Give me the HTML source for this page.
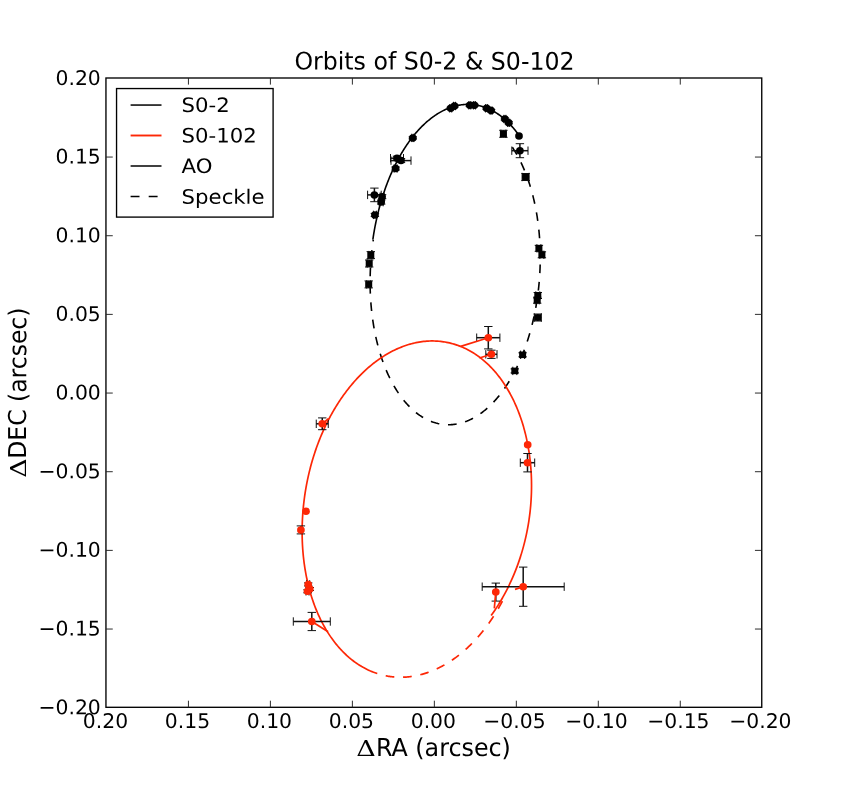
<!DOCTYPE html>
<html><head><meta charset="utf-8"><title>Orbits of S0-2 &amp; S0-102</title>
<style>html,body{margin:0;padding:0;background:#fff}svg{display:block}</style></head>
<body>
<svg width="845" height="786" viewBox="0 0 845 786">
<rect x="0" y="0" width="845" height="786" fill="#fff"/>
<path d="M512.36 147.30 L513.03 148.31 L513.69 149.34 L514.34 150.38 L514.99 151.44 L515.63 152.51 L516.27 153.59 L516.89 154.69 L517.51 155.80 L518.13 156.92 L518.73 158.06 L519.33 159.20 L519.92 160.36 L520.51 161.54 L521.08 162.72 L521.65 163.92 L522.22 165.13 L522.77 166.35 L523.32 167.58 L523.85 168.83 L524.38 170.08 L524.91 171.35 L525.42 172.63 L525.93 173.92 L526.43 175.22 L526.92 176.53 L527.40 177.85 L527.88 179.18 L528.34 180.52 L528.80 181.88 L529.25 183.24 L529.69 184.61 L530.13 185.99 L530.55 187.39 L530.97 188.79 L531.37 190.20 L531.77 191.62 L532.16 193.04 L532.54 194.48 L532.92 195.92 L533.28 197.38 L533.63 198.84 L533.98 200.31 L534.32 201.79 L534.65 203.27 L534.96 204.77 L535.27 206.27 L535.57 207.77 L535.87 209.29 L536.15 210.81 L536.42 212.34 L536.69 213.87 L536.94 215.41 L537.19 216.96 L537.42 218.52 L537.65 220.07 L537.87 221.64 L538.08 223.21 L538.27 224.79 L538.46 226.37 L538.64 227.95 L538.81 229.54 L538.98 231.14 L539.13 232.74 L539.27 234.34 L539.40 235.95 L539.52 237.56 L539.64 239.17 L539.74 240.79 L539.84 242.41 L539.92 244.04 L539.99 245.67 L540.06 247.30 L540.12 248.93 L540.16 250.57 L540.20 252.20 L540.22 253.84 L540.24 255.49 L540.25 257.13 L540.25 258.77 L540.23 260.42 L540.21 262.07 L540.18 263.71 L540.14 265.36 L540.09 267.01 L540.03 268.66 L539.96 270.31 L539.88 271.96 L539.79 273.61 L539.69 275.26 L539.59 276.91 L539.47 278.55 L539.34 280.20 L539.20 281.85 L539.06 283.49 L538.90 285.13 L538.74 286.77 L538.56 288.41 L538.38 290.05 L538.18 291.68 L537.98 293.31 L537.77 294.94 L537.55 296.57 L537.31 298.19 L537.07 299.81 L536.82 301.43 L536.57 303.04 L536.30 304.65 L536.02 306.26 L535.73 307.86 L535.44 309.46 L535.13 311.05 L534.82 312.64 L534.49 314.22 L534.16 315.80 L533.82 317.37 L533.47 318.94 L533.11 320.50 L532.74 322.06 L532.37 323.61 L531.98 325.15 L531.59 326.69 L531.19 328.22 L530.78 329.74 L530.36 331.26 L529.93 332.77 L529.49 334.28 L529.04 335.77 L528.59 337.26 L528.13 338.74 L527.66 340.22 L527.18 341.68 L526.69 343.14 L526.20 344.59 L525.70 346.03 L525.19 347.46 L524.67 348.88 L524.14 350.30 L523.61 351.70 L523.06 353.10 L522.51 354.49 L521.96 355.86 L521.39 357.23 L520.82 358.59 L520.24 359.93 L519.65 361.27 L519.06 362.60 L518.45 363.91 L517.84 365.22 L517.23 366.51 L516.60 367.80 L515.97 369.07 L515.34 370.33 L514.69 371.58 L514.04 372.82 L513.38 374.04 L512.72 375.26 L512.05 376.46 L511.37 377.65 L510.69 378.83 L510.00 380.00 L509.30 381.15 L508.60 382.29 L507.89 383.42 L507.18 384.53 L506.46 385.64 L505.73 386.73 L505.00 387.80 L504.26 388.86 L503.52 389.91 L502.77 390.95 L502.02 391.97 L501.26 392.98 L500.50 393.97 L499.73 394.95 L498.95 395.92 L498.17 396.87 L497.39 397.80 L496.60 398.73 L495.81 399.63 L495.01 400.53 L494.20 401.41 L493.40 402.27 L492.59 403.12 L491.77 403.95 L490.95 404.77 L490.13 405.57 L489.30 406.36 L488.47 407.13 L487.63 407.89 L486.79 408.63 L485.95 409.35 L485.10 410.06 L484.25 410.75 L483.40 411.43 L482.54 412.09 L481.68 412.74 L480.82 413.36 L479.95 413.98 L479.09 414.57 L478.21 415.15 L477.34 415.72 L476.47 416.26 L475.59 416.79 L474.71 417.31 L473.82 417.80 L472.94 418.28 L472.05 418.74 L471.16 419.19 L470.27 419.62 L469.38 420.03 L468.48 420.43 L467.59 420.80 L466.69 421.17 L465.79 421.51 L464.89 421.84 L463.99 422.15 L463.09 422.44 L462.19 422.71 L461.28 422.97 L460.38 423.21 L459.48 423.43 L458.57 423.64 L457.67 423.82 L456.76 423.99 L455.85 424.15 L454.95 424.28 L454.04 424.40 L453.14 424.50 L452.23 424.58 L451.32 424.65 L450.42 424.70 L449.51 424.73 L448.61 424.74 L447.71 424.73 L446.81 424.71 L445.90 424.67 L445.00 424.61 L444.11 424.54 L443.21 424.44 L442.31 424.33 L441.42 424.21 L440.52 424.06 L439.63 423.90 L438.74 423.72 L437.85 423.52 L436.97 423.30 L436.08 423.07 L435.20 422.82 L434.32 422.55 L433.44 422.27 L432.57 421.97 L431.70 421.65 L430.83 421.31 L429.96 420.96 L429.10 420.59 L428.24 420.20 L427.38 419.79 L426.52 419.37 L425.67 418.93 L424.82 418.48 L423.98 418.00 L423.14 417.51 L422.30 417.01 L421.47 416.48 L420.64 415.94 L419.81 415.39 L418.99 414.81 L418.17 414.23 L417.36 413.62 L416.55 413.00 L415.74 412.36 L414.94 411.71 L414.15 411.04 L413.35 410.35 L412.57 409.65 L411.79 408.93 L411.01 408.19 L410.24 407.44 L409.47 406.68 L408.71 405.90 L407.95 405.10 L407.20 404.29 L406.46 403.46 L405.72 402.62 L404.98 401.77 L404.25 400.89 L403.53 400.01 L402.81 399.10 L402.10 398.19 L401.40 397.26 L400.70 396.31 L400.00 395.35 L399.32 394.38 L398.64 393.39 L397.96 392.39 L397.30 391.37 L396.64 390.34 L395.98 389.30 L395.33 388.24 L394.69 387.17 L394.06 386.09 L393.43 384.99 L392.81 383.88 L392.20 382.76 L391.59 381.62 L391.00 380.48 L390.41 379.31 L389.82 378.14 L389.25 376.96 L388.68 375.76 L388.12 374.55 L387.56 373.33 L387.02 372.09 L386.48 370.85 L385.95 369.59 L385.42 368.32 L384.91 367.05 L384.40 365.76 L383.90 364.45 L383.41 363.14 L382.93 361.82 L382.46 360.49 L381.99 359.15 L381.53 357.79 L381.08 356.43 L380.64 355.06 L380.21 353.67 L379.79 352.28 L379.37 350.88 L378.96 349.47 L378.57 348.05 L378.18 346.62 L377.79 345.19 L377.42 343.74 L377.06 342.29 L376.71 340.82 L376.36 339.35 L376.02 337.88 L375.70 336.39 L375.38 334.90 L375.07 333.40 L374.77 331.89 L374.48 330.37 L374.19 328.85 L373.92 327.32 L373.66 325.79 L373.40 324.25 L373.16 322.70 L372.92 321.14 L372.70 319.59 L372.48 318.02 L372.27 316.45 L372.07 314.87 L371.88 313.29 L371.70 311.71 L371.53 310.12 L371.37 308.52 L371.22 306.92 L371.08 305.32 L370.95 303.71 L370.83 302.10 L370.71 300.48 L370.61 298.87 L370.52 297.24 L370.43 295.62 L370.36 293.99 L370.29 292.36 L370.24 290.73 L370.19 289.09 L370.16 287.45 L370.13 285.81 L370.11 284.17 L370.11 282.53 L370.11 280.88 L370.12 279.24 L370.14 277.59 L370.18 275.94 L370.22 274.29 L370.27 272.64 L370.33 270.99 L370.40 269.35 L370.48 267.70 L370.57 266.05 L370.67 264.40 L370.78 262.75 L370.89 261.10 L371.02 259.46 L371.16 257.81 L371.31 256.17 L371.46 254.52 L371.63 252.88 L371.80 251.24 L371.99 249.61 L372.18 247.97 L372.38 246.34 L372.60 244.71 L372.82 243.09 L373.05 241.46 L373.29 239.84" fill="none" stroke="#000" stroke-width="1.6" stroke-dasharray="8.7 8.75"/>
<path d="M372.83 239.68 L373.07 238.05 L373.32 236.42 L373.57 234.79 L373.84 233.17 L374.12 231.55 L374.40 229.93 L374.69 228.32 L375.00 226.71 L375.31 225.11 L375.63 223.51 L375.96 221.91 L376.30 220.32 L376.64 218.74 L377.00 217.16 L377.36 215.58 L377.74 214.01 L378.12 212.44 L378.51 210.88 L378.91 209.33 L379.31 207.78 L379.73 206.24 L380.15 204.70 L380.58 203.17 L381.02 201.65 L381.47 200.13 L381.93 198.63 L382.40 197.12 L382.87 195.63 L383.35 194.14 L383.84 192.66 L384.34 191.19 L384.84 189.72 L385.36 188.27 L385.88 186.82 L386.41 185.38 L386.94 183.95 L387.49 182.52 L388.04 181.11 L388.60 179.70 L389.17 178.31 L389.74 176.92 L390.32 175.54 L390.91 174.17 L391.51 172.82 L392.11 171.47 L392.72 170.13 L393.34 168.80 L393.96 167.48 L394.59 166.17 L395.23 164.87 L395.88 163.59 L396.53 162.31 L397.19 161.04 L397.85 159.79 L398.52 158.55 L399.20 157.31 L399.89 156.09 L400.58 154.88 L401.27 153.69 L401.98 152.50 L402.68 151.33 L403.40 150.17 L404.12 149.02 L404.85 147.88 L405.58 146.75 L406.32 145.64 L407.06 144.54 L407.81 143.45 L408.56 142.38 L409.32 141.32 L410.09 140.27 L410.86 139.24 L411.64 138.21 L412.42 137.21 L413.20 136.21 L413.99 135.23 L414.79 134.26 L415.59 133.31 L416.39 132.37 L417.20 131.45 L418.02 130.53 L418.83 129.64 L419.66 128.76 L420.48 127.89 L421.31 127.03 L422.15 126.19 L422.99 125.37 L423.83 124.56 L424.68 123.77 L425.52 122.99 L426.38 122.22 L427.24 121.47 L428.10 120.74 L428.96 120.02 L429.83 119.31 L430.70 118.63 L431.57 117.95 L432.44 117.30 L433.32 116.65 L434.20 116.03 L435.09 115.42 L435.98 114.82 L436.86 114.25 L437.76 113.68 L438.65 113.14 L439.55 112.61 L440.44 112.09 L441.34 111.59 L442.25 111.11 L443.15 110.65 L444.06 110.20 L444.96 109.76 L445.87 109.35 L446.78 108.95 L447.69 108.57 L448.61 108.20 L449.52 107.85 L450.44 107.51 L451.35 107.20 L452.27 106.90 L453.19 106.61 L454.10 106.35 L455.02 106.10 L455.94 105.86 L456.86 105.65 L457.78 105.45 L458.70 105.27 L459.62 105.10 L460.54 104.95 L461.46 104.82 L462.38 104.71 L463.30 104.61 L464.22 104.53 L465.14 104.46 L466.05 104.42 L466.97 104.39 L467.89 104.37 L468.80 104.38 L469.72 104.40 L470.63 104.44 L471.54 104.49 L472.45 104.57 L473.36 104.65 L474.27 104.76 L475.18 104.88 L476.08 105.02 L476.99 105.18 L477.89 105.35 L478.79 105.55 L479.68 105.75 L480.58 105.98 L481.47 106.22 L482.36 106.48 L483.25 106.75 L484.14 107.04 L485.02 107.35 L485.90 107.68 L486.78 108.02 L487.65 108.38 L488.52 108.75 L489.39 109.14 L490.26 109.55 L491.12 109.98 L491.98 110.42 L492.83 110.87 L493.68 111.35 L494.53 111.84 L495.38 112.34 L496.22 112.87 L497.05 113.40 L497.89 113.96 L498.72 114.53 L499.54 115.12 L500.36 115.72 L501.18 116.34 L501.99 116.97 L502.80 117.62 L503.60 118.28 L504.40 118.96 L505.19 119.66 L505.98 120.37 L506.76 121.10 L507.54 121.84 L508.31 122.60 L509.08 123.37 L509.84 124.16 L510.60 124.96 L511.35 125.77 L512.10 126.61 L512.84 127.45 L513.58 128.31 L514.31 129.19 L515.03 130.08 L515.75 130.98 L516.46 131.90 L517.17 132.83 L517.87 133.78 L518.56 134.74 L519.25 135.71" fill="none" stroke="#000" stroke-width="1.6"/>
<path d="M502.39 601.18 L502.08 601.76 L501.77 602.35 L501.46 602.93 L501.14 603.52 L500.82 604.10 L500.50 604.69 L500.17 605.28 L499.85 605.87 L499.52 606.45 L499.18 607.04 L498.85 607.63 L498.51 608.22 L498.17 608.81 L497.82 609.39 L497.47 609.98 L497.12 610.57 L496.77 611.16 L496.41 611.75 L496.06 612.34 L495.69 612.93 L495.33 613.52 L494.96 614.11 L494.59 614.70 L494.21 615.29 L493.84 615.88 L493.46 616.47 L493.07 617.06 L492.69 617.65 L492.30 618.24 L491.90 618.83 L491.51 619.42 L491.11 620.01 L490.70 620.60 L490.30 621.19 L489.89 621.78 L489.47 622.37 L489.06 622.95 L488.64 623.54 L488.22 624.13 L487.79 624.72 L487.36 625.31 L486.93 625.89 L486.49 626.48 L486.05 627.07 L485.61 627.65 L485.16 628.24 L484.71 628.82 L484.25 629.41 L483.80 629.99 L483.34 630.57 L482.87 631.15 L482.40 631.74 L481.93 632.32 L481.45 632.90 L480.97 633.48 L480.49 634.05 L480.00 634.63 L479.51 635.21 L479.02 635.78 L478.52 636.36 L478.02 636.93 L477.51 637.50 L477.00 638.07 L476.49 638.64 L475.97 639.21 L475.45 639.78 L474.92 640.34 L474.39 640.90 L473.86 641.47 L473.32 642.03 L472.78 642.59 L472.24 643.14 L471.69 643.70 L471.13 644.25 L470.58 644.81 L470.02 645.36 L469.45 645.90 L468.88 646.45 L468.31 646.99 L467.73 647.53 L467.15 648.07 L466.56 648.61 L465.97 649.15 L465.38 649.68 L464.78 650.21 L464.18 650.74 L463.58 651.26 L462.97 651.78 L462.35 652.30 L461.74 652.82 L461.11 653.33 L460.49 653.84 L459.86 654.35 L459.22 654.85 L458.58 655.35 L457.94 655.85 L457.30 656.34 L456.64 656.84 L455.99 657.32 L455.33 657.81 L454.67 658.29 L454.00 658.76 L453.33 659.23 L452.66 659.70 L451.98 660.16 L451.30 660.62 L450.61 661.08 L449.92 661.53 L449.22 661.98 L448.53 662.42 L447.82 662.86 L447.12 663.29 L446.41 663.72 L445.70 664.14 L444.98 664.56 L444.26 664.97 L443.53 665.38 L442.80 665.78 L442.07 666.18 L441.34 666.57 L440.60 666.95 L439.85 667.34 L439.11 667.71 L438.36 668.08 L437.61 668.44 L436.85 668.80 L436.09 669.15 L435.33 669.49 L434.56 669.83 L433.79 670.16 L433.02 670.49 L432.24 670.81 L431.46 671.12 L430.68 671.43 L429.90 671.73 L429.11 672.02 L428.32 672.30 L427.53 672.58 L426.73 672.85 L425.93 673.11 L425.13 673.37 L424.33 673.62 L423.52 673.86 L422.72 674.09 L421.91 674.32 L421.09 674.54 L420.28 674.75 L419.46 674.95 L418.65 675.14 L417.82 675.33 L417.00 675.51 L416.18 675.68 L415.35 675.84 L414.53 675.99 L413.70 676.13 L412.87 676.27 L412.04 676.40 L411.21 676.52 L410.37 676.63 L409.54 676.73 L408.70 676.82 L407.87 676.90 L407.03 676.98 L406.19 677.04 L405.35 677.10 L404.51 677.15 L403.68 677.19 L402.84 677.22 L402.00 677.24 L401.16 677.25 L400.32 677.25 L399.48 677.25 L398.64 677.23 L397.80 677.21 L396.96 677.17 L396.12 677.13 L395.29 677.07 L394.45 677.01 L393.61 676.94 L392.78 676.86 L391.94 676.77 L391.11 676.67 L390.28 676.56 L389.45 676.44 L388.62 676.31 L387.79 676.18 L386.97 676.03 L386.14 675.87 L385.32 675.71 L384.50 675.53 L383.68 675.35 L382.86 675.16 L382.05 674.96 L381.24 674.75 L380.43 674.53 L379.62 674.30 L378.82 674.06 L378.01 673.81 L377.22 673.56" fill="none" stroke="#fd2706" stroke-width="1.7" stroke-dasharray="8.7 8.75"/>
<path d="M377.22 673.56 L375.75 673.06 L374.30 672.54 L372.86 671.99 L371.42 671.41 L370.00 670.80 L368.60 670.16 L367.20 669.49 L365.82 668.80 L364.45 668.08 L363.09 667.34 L361.75 666.57 L360.43 665.77 L359.11 664.95 L357.82 664.11 L356.53 663.24 L355.27 662.35 L354.02 661.44 L352.79 660.51 L351.57 659.55 L350.37 658.58 L349.18 657.59 L348.02 656.57 L346.87 655.54 L345.74 654.50 L344.62 653.43 L343.53 652.35 L342.45 651.26 L341.38 650.14 L340.34 649.02 L339.31 647.88 L338.31 646.73 L337.31 645.57 L336.34 644.39 L335.39 643.20 L334.45 642.01 L333.53 640.80 L332.63 639.58 L331.74 638.36 L330.87 637.12 L330.02 635.88 L329.19 634.63 L328.37 633.38 L327.57 632.12 L326.79 630.85 L326.02 629.58 L325.27 628.30 L324.54 627.02 L323.82 625.74 L323.11 624.45 L322.43 623.16 L321.76 621.86 L321.10 620.57 L320.46 619.27 L319.83 617.97 L319.22 616.67 L318.63 615.37 L318.04 614.07 L317.48 612.76 L316.92 611.46 L316.38 610.16 L315.86 608.86 L315.34 607.56 L314.84 606.26 L314.35 604.96 L313.88 603.66 L313.42 602.37 L312.97 601.08 L312.53 599.78 L312.10 598.50 L311.69 597.21 L311.29 595.93 L310.89 594.65 L310.51 593.37 L310.14 592.09 L309.78 590.82 L309.44 589.55 L309.10 588.29 L308.77 587.02 L308.45 585.77 L308.14 584.51 L307.85 583.26 L307.56 582.01 L307.28 580.77 L307.01 579.53 L306.75 578.29 L306.49 577.06 L306.25 575.83 L306.01 574.61 L305.79 573.39 L305.57 572.17 L305.36 570.96 L305.15 569.76 L304.96 568.55 L304.77 567.35 L304.59 566.16 L304.42 564.97 L304.25 563.78 L304.09 562.60 L303.94 561.42 L303.80 560.24 L303.66 559.07 L303.53 557.91 L303.40 556.75 L303.28 555.59 L303.17 554.43 L303.07 553.28 L302.97 552.14 L302.87 550.99 L302.79 549.86 L302.70 548.72 L302.63 547.59 L302.56 546.46 L302.49 545.34 L302.43 544.22 L302.38 543.10 L302.33 541.99 L302.29 540.88 L302.25 539.78 L302.22 538.67 L302.19 537.58 L302.17 536.48 L302.15 535.39 L302.14 534.30 L302.13 533.21 L302.13 532.13 L302.13 531.05 L302.13 529.97 L302.14 528.90 L302.16 527.83 L302.18 526.76 L302.20 525.69 L302.23 524.63 L302.26 523.57 L302.30 522.51 L302.34 521.46 L302.39 520.41 L302.44 519.36 L302.49 518.31 L302.55 517.26 L302.62 516.22 L302.68 515.18 L302.75 514.14 L302.83 513.10 L302.91 512.07 L302.99 511.03 L303.08 510.00 L303.17 508.97 L303.27 507.95 L303.37 506.92 L303.47 505.90 L303.58 504.87 L303.69 503.85 L303.80 502.83 L303.92 501.81 L304.04 500.79 L304.17 499.78 L304.30 498.76 L304.44 497.75 L304.58 496.74 L304.72 495.73 L304.87 494.71 L305.02 493.71 L305.17 492.70 L305.33 491.69 L305.49 490.68 L305.66 489.67 L305.83 488.67 L306.00 487.66 L306.18 486.66 L306.37 485.65 L306.55 484.65 L306.74 483.64 L306.94 482.64 L307.14 481.64 L307.34 480.63 L307.55 479.63 L307.76 478.63 L307.98 477.62 L308.20 476.62 L308.42 475.62 L308.65 474.61 L308.88 473.61 L309.12 472.61 L309.36 471.60 L309.61 470.60 L309.86 469.59 L310.12 468.59 L310.38 467.58 L310.64 466.58 L310.91 465.57 L311.19 464.56 L311.46 463.55 L311.75 462.55 L312.04 461.54 L312.33 460.53 L312.63 459.51 L312.93 458.50 L313.24 457.49 L313.55 456.48 L313.87 455.46 L314.20 454.45 L314.53 453.43 L314.86 452.41 L315.20 451.39 L315.55 450.37 L315.90 449.35 L316.26 448.33 L316.62 447.30 L316.99 446.28 L317.36 445.25 L317.74 444.23 L318.13 443.20 L318.52 442.17 L318.92 441.13 L319.32 440.10 L319.73 439.07 L320.15 438.03 L320.57 436.99 L321.01 435.96 L321.44 434.92 L321.89 433.87 L322.34 432.83 L322.79 431.79 L323.26 430.74 L323.73 429.69 L324.21 428.64 L324.69 427.59 L325.19 426.54 L325.69 425.49 L326.20 424.43 L326.71 423.38 L327.24 422.32 L327.77 421.26 L328.31 420.20 L328.86 419.14 L329.42 418.08 L329.98 417.01 L330.55 415.95 L331.14 414.88 L331.73 413.82 L332.33 412.75 L332.94 411.68 L333.55 410.61 L334.18 409.54 L334.82 408.47 L335.46 407.40 L336.12 406.32 L336.78 405.25 L337.46 404.18 L338.14 403.10 L338.84 402.03 L339.54 400.96 L340.26 399.88 L340.98 398.81 L341.72 397.74 L342.47 396.67 L343.23 395.59 L344.00 394.52 L344.78 393.45 L345.57 392.38 L346.37 391.32 L347.19 390.25 L348.01 389.19 L348.85 388.12 L349.70 387.06 L350.56 386.01 L351.44 384.95 L352.32 383.90 L353.22 382.85 L354.13 381.80 L355.06 380.76 L355.99 379.72 L356.94 378.69 L357.91 377.66 L358.88 376.64 L359.87 375.62 L360.87 374.60 L361.88 373.60 L362.91 372.59 L363.95 371.60 L365.01 370.61 L366.08 369.63 L367.16 368.66 L368.25 367.69 L369.36 366.74 L370.48 365.79 L371.62 364.85 L372.77 363.93 L373.93 363.01 L375.11 362.10 L376.30 361.21 L377.50 360.33 L378.72 359.46 L379.95 358.60 L381.19 357.75 L382.45 356.92 L383.72 356.11 L385.00 355.31 L386.30 354.53 L387.60 353.76 L388.92 353.01 L390.26 352.27 L391.60 351.56 L392.96 350.86 L394.33 350.18 L395.71 349.52 L397.10 348.88 L398.50 348.26 L399.91 347.67 L401.34 347.09 L402.77 346.54 L404.21 346.01 L405.66 345.50 L407.12 345.02 L408.59 344.56 L410.07 344.13 L411.55 343.73 L413.04 343.35 L414.54 342.99 L416.04 342.67 L417.55 342.37 L419.07 342.09 L420.59 341.85 L422.11 341.64 L423.64 341.45 L425.17 341.29 L426.70 341.17 L428.24 341.07 L429.77 341.01 L431.31 340.97 L432.85 340.96 L434.38 340.99 L435.92 341.04 L437.45 341.13 L438.98 341.25 L440.51 341.40 L442.04 341.58 L443.56 341.79 L445.08 342.03 L446.59 342.31 L448.09 342.61 L449.59 342.95 L451.08 343.31 L452.57 343.71 L454.04 344.13 L455.51 344.59 L456.97 345.07 L458.42 345.59 L459.85 346.13 L461.28 346.70 L462.70 347.30 L464.10 347.93 L465.49 348.59 L466.87 349.27 L468.24 349.98 L469.59 350.71 L470.93 351.47 L472.26 352.25 L473.57 353.06 L474.86 353.89 L476.14 354.74 L477.41 355.62 L478.66 356.52 L479.89 357.44 L481.11 358.37 L482.31 359.33 L483.49 360.31 L484.66 361.31 L485.81 362.32 L486.95 363.36 L488.06 364.41 L489.16 365.47 L490.25 366.55 L491.31 367.65 L492.36 368.76 L493.39 369.88 L494.40 371.01 L495.40 372.16 L496.38 373.32 L497.34 374.49 L498.28 375.67 L499.21 376.87 L500.12 378.07 L501.01 379.28 L501.89 380.49 L502.75 381.72 L503.59 382.95 L504.41 384.19 L505.22 385.44 L506.01 386.69 L506.79 387.95 L507.55 389.21 L508.29 390.47 L509.02 391.74 L509.74 393.02 L510.43 394.30 L511.12 395.58 L511.78 396.86 L512.43 398.14 L513.07 399.43 L513.69 400.72 L514.30 402.01 L514.90 403.30 L515.48 404.59 L516.04 405.88 L516.60 407.17 L517.14 408.46 L517.66 409.75 L518.18 411.04 L518.68 412.32 L519.17 413.61 L519.64 414.90 L520.11 416.18 L520.56 417.46 L521.00 418.74 L521.42 420.02 L521.84 421.30 L522.25 422.57 L522.64 423.84 L523.02 425.11 L523.40 426.37 L523.76 427.64 L524.11 428.90 L524.45 430.15 L524.78 431.41 L525.11 432.66 L525.42 433.90 L525.72 435.15 L526.01 436.39 L526.30 437.62 L526.57 438.85 L526.84 440.08 L527.10 441.31 L527.34 442.53 L527.58 443.75 L527.82 444.96 L528.04 446.17 L528.25 447.38 L528.46 448.58 L528.66 449.78 L528.85 450.98 L529.04 452.17 L529.21 453.36 L529.38 454.54 L529.55 455.72 L529.70 456.90 L529.85 458.07 L529.99 459.24 L530.12 460.41 L530.25 461.57 L530.37 462.72 L530.49 463.88 L530.59 465.03 L530.70 466.18 L530.79 467.32 L530.88 468.46 L530.96 469.59 L531.04 470.73 L531.11 471.85 L531.18 472.98 L531.24 474.10 L531.29 475.22 L531.34 476.34 L531.38 477.45 L531.42 478.56 L531.45 479.66 L531.48 480.76 L531.50 481.86 L531.51 482.96 L531.52 484.05 L531.53 485.14 L531.53 486.23 L531.52 487.31 L531.51 488.40 L531.50 489.47 L531.48 490.55 L531.45 491.62 L531.42 492.69 L531.39 493.76 L531.35 494.83 L531.30 495.89 L531.25 496.95 L531.20 498.01 L531.14 499.06 L531.08 500.11 L531.01 501.17 L530.94 502.21 L530.86 503.26 L530.78 504.31 L530.70 505.35 L530.61 506.39 L530.51 507.43 L530.41 508.46 L530.31 509.50 L530.20 510.53 L530.09 511.56 L529.97 512.59 L529.85 513.62 L529.72 514.64 L529.59 515.67 L529.46 516.69 L529.32 517.71 L529.18 518.73 L529.03 519.75 L528.88 520.77 L528.72 521.78 L528.56 522.80 L528.39 523.81 L528.22 524.82 L528.05 525.83 L527.87 526.84 L527.69 527.85 L527.50 528.86 L527.31 529.87 L527.11 530.87 L526.91 531.88 L526.71 532.88 L526.50 533.89 L526.29 534.89 L526.07 535.89 L525.85 536.90 L525.62 537.90 L525.39 538.90 L525.15 539.90 L524.91 540.90 L524.66 541.90 L524.41 542.90 L524.16 543.90 L523.90 544.89 L523.63 545.89 L523.37 546.89 L523.09 547.89 L522.81 548.89 L522.53 549.89 L522.24 550.88 L521.95 551.88 L521.65 552.88 L521.35 553.88 L521.04 554.87 L520.73 555.87 L520.41 556.87 L520.09 557.87 L519.76 558.87 L519.42 559.87 L519.08 560.87 L518.74 561.87 L518.39 562.87 L518.04 563.87 L517.68 564.87 L517.31 565.87 L516.94 566.87 L516.56 567.87 L516.18 568.87 L515.79 569.88 L515.39 570.88 L514.99 571.89 L514.59 572.89 L514.18 573.90 L513.76 574.90 L513.33 575.91 L512.90 576.92 L512.47 577.92 L512.02 578.93 L511.57 579.94 L511.12 580.95 L510.65 581.96 L510.18 582.97 L509.71 583.98 L509.23 585.00 L508.74 586.01 L508.24 587.02 L507.74 588.04 L507.23 589.05 L506.71 590.07 L506.18 591.08 L505.65 592.10 L505.11 593.12 L504.56 594.14 L504.01 595.15 L503.44 596.17 L502.87 597.19 L502.29 598.21 L501.71 599.23 L501.11 600.25 L500.51 601.27 L499.90 602.29 L499.28 603.31 L498.65 604.33 L498.01 605.35 L497.36 606.37 L496.71 607.39 L496.05 608.41 L495.37 609.43 L494.69 610.45 L494.00 611.47 L493.30 612.49 L492.59 613.51 L491.87 614.52 L491.14 615.54" fill="none" stroke="#fd2706" stroke-width="1.7"/>
<path d="M367.60 194.90H381.20" stroke="#111" stroke-width="1.5"/><path d="M367.60 190.70V199.10M381.20 190.70V199.10" stroke="#111" stroke-width="1.0"/><path d="M374.40 188.10V201.70" stroke="#111" stroke-width="1.5"/><path d="M370.20 188.10H378.60M370.20 201.70H378.60" stroke="#111" stroke-width="1.0"/>
<path d="M380.10 196.70H384.10" stroke="#111" stroke-width="1.5"/><path d="M380.10 192.50V200.90M384.10 192.50V200.90" stroke="#111" stroke-width="1.0"/><path d="M382.10 194.70V198.70" stroke="#111" stroke-width="1.5"/><path d="M377.90 194.70H386.30M377.90 198.70H386.30" stroke="#111" stroke-width="1.0"/>
<path d="M379.20 202.10H383.20" stroke="#111" stroke-width="1.5"/><path d="M379.20 197.90V206.30M383.20 197.90V206.30" stroke="#111" stroke-width="1.0"/><path d="M381.20 200.10V204.10" stroke="#111" stroke-width="1.5"/><path d="M377.00 200.10H385.40M377.00 204.10H385.40" stroke="#111" stroke-width="1.0"/>
<path d="M373.40 214.90H376.40" stroke="#111" stroke-width="1.5"/><path d="M373.40 210.70V219.10M376.40 210.70V219.10" stroke="#111" stroke-width="1.0"/><path d="M374.90 213.40V216.40" stroke="#111" stroke-width="1.5"/><path d="M370.70 213.40H379.10M370.70 216.40H379.10" stroke="#111" stroke-width="1.0"/>
<path d="M394.10 168.50H397.10" stroke="#111" stroke-width="1.5"/><path d="M394.10 164.30V172.70M397.10 164.30V172.70" stroke="#111" stroke-width="1.0"/><path d="M395.60 167.00V170.00" stroke="#111" stroke-width="1.5"/><path d="M391.40 167.00H399.80M391.40 170.00H399.80" stroke="#111" stroke-width="1.0"/>
<path d="M390.50 158.20H403.50" stroke="#111" stroke-width="1.5"/><path d="M390.50 154.00V162.40M403.50 154.00V162.40" stroke="#111" stroke-width="1.0"/><path d="M397.00 156.20V160.20" stroke="#111" stroke-width="1.5"/><path d="M392.80 156.20H401.20M392.80 160.20H401.20" stroke="#111" stroke-width="1.0"/>
<path d="M391.00 160.60H411.00" stroke="#111" stroke-width="1.5"/><path d="M391.00 156.40V164.80M411.00 156.40V164.80" stroke="#111" stroke-width="1.0"/><path d="M401.00 158.60V162.60" stroke="#111" stroke-width="1.5"/><path d="M396.80 158.60H405.20M396.80 162.60H405.20" stroke="#111" stroke-width="1.0"/>
<path d="M411.80 137.90H413.80" stroke="#111" stroke-width="1.5"/><path d="M411.80 133.70V142.10M413.80 133.70V142.10" stroke="#111" stroke-width="1.0"/><path d="M412.80 136.90V138.90" stroke="#111" stroke-width="1.5"/><path d="M408.60 136.90H417.00M408.60 138.90H417.00" stroke="#111" stroke-width="1.0"/>
<path d="M449.70 108.30H451.70" stroke="#111" stroke-width="1.5"/><path d="M449.70 104.10V112.50M451.70 104.10V112.50" stroke="#111" stroke-width="1.0"/><path d="M450.70 107.30V109.30" stroke="#111" stroke-width="1.5"/><path d="M446.50 107.30H454.90M446.50 109.30H454.90" stroke="#111" stroke-width="1.0"/>
<path d="M453.50 106.00H455.50" stroke="#111" stroke-width="1.5"/><path d="M453.50 101.80V110.20M455.50 101.80V110.20" stroke="#111" stroke-width="1.0"/><path d="M454.50 105.00V107.00" stroke="#111" stroke-width="1.5"/><path d="M450.30 105.00H458.70M450.30 107.00H458.70" stroke="#111" stroke-width="1.0"/>
<path d="M468.80 105.30H470.80" stroke="#111" stroke-width="1.5"/><path d="M468.80 101.10V109.50M470.80 101.10V109.50" stroke="#111" stroke-width="1.0"/><path d="M469.80 104.30V106.30" stroke="#111" stroke-width="1.5"/><path d="M465.60 104.30H474.00M465.60 106.30H474.00" stroke="#111" stroke-width="1.0"/>
<path d="M473.40 105.30H475.40" stroke="#111" stroke-width="1.5"/><path d="M473.40 101.10V109.50M475.40 101.10V109.50" stroke="#111" stroke-width="1.0"/><path d="M474.40 104.30V106.30" stroke="#111" stroke-width="1.5"/><path d="M470.20 104.30H478.60M470.20 106.30H478.60" stroke="#111" stroke-width="1.0"/>
<path d="M485.60 108.30H487.60" stroke="#111" stroke-width="1.5"/><path d="M485.60 104.10V112.50M487.60 104.10V112.50" stroke="#111" stroke-width="1.0"/><path d="M486.60 107.30V109.30" stroke="#111" stroke-width="1.5"/><path d="M482.40 107.30H490.80M482.40 109.30H490.80" stroke="#111" stroke-width="1.0"/>
<path d="M490.10 110.60H492.10" stroke="#111" stroke-width="1.5"/><path d="M490.10 106.40V114.80M492.10 106.40V114.80" stroke="#111" stroke-width="1.0"/><path d="M491.10 109.60V111.60" stroke="#111" stroke-width="1.5"/><path d="M486.90 109.60H495.30M486.90 111.60H495.30" stroke="#111" stroke-width="1.0"/>
<path d="M503.90 119.00H505.90" stroke="#111" stroke-width="1.5"/><path d="M503.90 114.80V123.20M505.90 114.80V123.20" stroke="#111" stroke-width="1.0"/><path d="M504.90 118.00V120.00" stroke="#111" stroke-width="1.5"/><path d="M500.70 118.00H509.10M500.70 120.00H509.10" stroke="#111" stroke-width="1.0"/>
<path d="M507.70 122.80H509.70" stroke="#111" stroke-width="1.5"/><path d="M507.70 118.60V127.00M509.70 118.60V127.00" stroke="#111" stroke-width="1.0"/><path d="M508.70 121.80V123.80" stroke="#111" stroke-width="1.5"/><path d="M504.50 121.80H512.90M504.50 123.80H512.90" stroke="#111" stroke-width="1.0"/>

<path d="M511.80 150.70H528.00" stroke="#111" stroke-width="1.5"/><path d="M511.80 146.50V154.90M528.00 146.50V154.90" stroke="#111" stroke-width="1.0"/><path d="M519.90 143.70V157.70" stroke="#111" stroke-width="1.5"/><path d="M515.70 143.70H524.10M515.70 157.70H524.10" stroke="#111" stroke-width="1.0"/>
<path d="M500.90 133.80H505.90" stroke="#111" stroke-width="1.5"/><path d="M500.90 129.60V138.00M505.90 129.60V138.00" stroke="#111" stroke-width="1.0"/><path d="M503.40 130.30V137.30" stroke="#111" stroke-width="1.5"/><path d="M499.20 130.30H507.60M499.20 137.30H507.60" stroke="#111" stroke-width="1.0"/>
<path d="M522.10 177.00H529.10" stroke="#111" stroke-width="1.5"/><path d="M522.10 172.80V181.20M529.10 172.80V181.20" stroke="#111" stroke-width="1.0"/><path d="M525.60 173.50V180.50" stroke="#111" stroke-width="1.5"/><path d="M521.40 173.50H529.80M521.40 180.50H529.80" stroke="#111" stroke-width="1.0"/>
<path d="M536.90 248.30H540.90" stroke="#111" stroke-width="1.5"/><path d="M536.90 244.10V252.50M540.90 244.10V252.50" stroke="#111" stroke-width="1.0"/><path d="M538.90 245.30V251.30" stroke="#111" stroke-width="1.5"/><path d="M534.70 245.30H543.10M534.70 251.30H543.10" stroke="#111" stroke-width="1.0"/>
<path d="M539.90 254.80H543.90" stroke="#111" stroke-width="1.5"/><path d="M539.90 250.60V259.00M543.90 250.60V259.00" stroke="#111" stroke-width="1.0"/><path d="M541.90 251.80V257.80" stroke="#111" stroke-width="1.5"/><path d="M537.70 251.80H546.10M537.70 257.80H546.10" stroke="#111" stroke-width="1.0"/>
<path d="M535.80 295.50H539.80" stroke="#111" stroke-width="1.5"/><path d="M535.80 291.30V299.70M539.80 291.30V299.70" stroke="#111" stroke-width="1.0"/><path d="M537.80 292.50V298.50" stroke="#111" stroke-width="1.5"/><path d="M533.60 292.50H542.00M533.60 298.50H542.00" stroke="#111" stroke-width="1.0"/>
<path d="M535.20 300.20H539.20" stroke="#111" stroke-width="1.5"/><path d="M535.20 296.00V304.40M539.20 296.00V304.40" stroke="#111" stroke-width="1.0"/><path d="M537.20 297.20V303.20" stroke="#111" stroke-width="1.5"/><path d="M533.00 297.20H541.40M533.00 303.20H541.40" stroke="#111" stroke-width="1.0"/>
<path d="M534.30 317.50H541.30" stroke="#111" stroke-width="1.5"/><path d="M534.30 313.30V321.70M541.30 313.30V321.70" stroke="#111" stroke-width="1.0"/><path d="M537.80 314.00V321.00" stroke="#111" stroke-width="1.5"/><path d="M533.60 314.00H542.00M533.60 321.00H542.00" stroke="#111" stroke-width="1.0"/>
<path d="M520.60 354.80H524.60" stroke="#111" stroke-width="1.5"/><path d="M520.60 350.60V359.00M524.60 350.60V359.00" stroke="#111" stroke-width="1.0"/><path d="M522.60 352.80V356.80" stroke="#111" stroke-width="1.5"/><path d="M518.40 352.80H526.80M518.40 356.80H526.80" stroke="#111" stroke-width="1.0"/>
<path d="M512.80 370.90H516.80" stroke="#111" stroke-width="1.5"/><path d="M512.80 366.70V375.10M516.80 366.70V375.10" stroke="#111" stroke-width="1.0"/><path d="M514.80 368.90V372.90" stroke="#111" stroke-width="1.5"/><path d="M510.60 368.90H519.00M510.60 372.90H519.00" stroke="#111" stroke-width="1.0"/>
<path d="M368.80 255.10H372.80" stroke="#111" stroke-width="1.5"/><path d="M368.80 250.90V259.30M372.80 250.90V259.30" stroke="#111" stroke-width="1.0"/><path d="M370.80 251.60V258.60" stroke="#111" stroke-width="1.5"/><path d="M366.60 251.60H375.00M366.60 258.60H375.00" stroke="#111" stroke-width="1.0"/>
<path d="M367.20 263.50H371.20" stroke="#111" stroke-width="1.5"/><path d="M367.20 259.30V267.70M371.20 259.30V267.70" stroke="#111" stroke-width="1.0"/><path d="M369.20 260.00V267.00" stroke="#111" stroke-width="1.5"/><path d="M365.00 260.00H373.40M365.00 267.00H373.40" stroke="#111" stroke-width="1.0"/>
<path d="M366.70 284.40H370.70" stroke="#111" stroke-width="1.5"/><path d="M366.70 280.20V288.60M370.70 280.20V288.60" stroke="#111" stroke-width="1.0"/><path d="M368.70 280.90V287.90" stroke="#111" stroke-width="1.5"/><path d="M364.50 280.90H372.90M364.50 287.90H372.90" stroke="#111" stroke-width="1.0"/>
<ellipse cx="374.40" cy="194.90" rx="3.85" ry="3.75" fill="#000"/>
<ellipse cx="382.10" cy="196.70" rx="3.85" ry="3.75" fill="#000"/>
<ellipse cx="381.20" cy="202.10" rx="3.85" ry="3.75" fill="#000"/>
<ellipse cx="374.90" cy="214.90" rx="3.85" ry="3.75" fill="#000"/>
<ellipse cx="395.60" cy="168.50" rx="3.85" ry="3.75" fill="#000"/>
<ellipse cx="397.00" cy="158.20" rx="3.85" ry="3.75" fill="#000"/>
<ellipse cx="401.00" cy="160.60" rx="3.85" ry="3.75" fill="#000"/>
<ellipse cx="412.80" cy="137.90" rx="3.85" ry="3.75" fill="#000"/>
<ellipse cx="450.70" cy="108.30" rx="3.85" ry="3.75" fill="#000"/>
<ellipse cx="454.50" cy="106.00" rx="3.85" ry="3.75" fill="#000"/>
<ellipse cx="469.80" cy="105.30" rx="3.85" ry="3.75" fill="#000"/>
<ellipse cx="474.40" cy="105.30" rx="3.85" ry="3.75" fill="#000"/>
<ellipse cx="486.60" cy="108.30" rx="3.85" ry="3.75" fill="#000"/>
<ellipse cx="491.10" cy="110.60" rx="3.85" ry="3.75" fill="#000"/>
<ellipse cx="504.90" cy="119.00" rx="3.85" ry="3.75" fill="#000"/>
<ellipse cx="508.70" cy="122.80" rx="3.85" ry="3.75" fill="#000"/>
<ellipse cx="519.00" cy="136.00" rx="3.85" ry="3.75" fill="#000"/>
<ellipse cx="519.90" cy="150.70" rx="3.85" ry="3.75" fill="#000"/>
<rect x="499.90" y="130.50" width="7.0" height="6.6" fill="#000"/>
<rect x="522.10" y="173.70" width="7.0" height="6.6" fill="#000"/>
<rect x="535.40" y="245.00" width="7.0" height="6.6" fill="#000"/>
<rect x="538.40" y="251.50" width="7.0" height="6.6" fill="#000"/>
<rect x="534.30" y="292.20" width="7.0" height="6.6" fill="#000"/>
<rect x="533.70" y="296.90" width="7.0" height="6.6" fill="#000"/>
<rect x="534.30" y="314.20" width="7.0" height="6.6" fill="#000"/>
<rect x="519.10" y="351.50" width="7.0" height="6.6" fill="#000"/>
<rect x="511.30" y="367.60" width="7.0" height="6.6" fill="#000"/>
<rect x="367.30" y="251.80" width="7.0" height="6.6" fill="#000"/>
<rect x="365.70" y="260.20" width="7.0" height="6.6" fill="#000"/>
<rect x="365.20" y="281.10" width="7.0" height="6.6" fill="#000"/>
<path d="M476.70 337.70H499.90" stroke="#111" stroke-width="1.5"/><path d="M476.70 333.50V341.90M499.90 333.50V341.90" stroke="#111" stroke-width="1.0"/><path d="M488.30 326.50V348.90" stroke="#111" stroke-width="1.5"/><path d="M484.10 326.50H492.50M484.10 348.90H492.50" stroke="#111" stroke-width="1.0"/>
<path d="M485.80 354.30H497.00" stroke="#111" stroke-width="1.5"/><path d="M485.80 350.10V358.50M497.00 350.10V358.50" stroke="#111" stroke-width="1.0"/><path d="M491.40 350.20V358.40" stroke="#111" stroke-width="1.5"/><path d="M487.20 350.20H495.60M487.20 358.40H495.60" stroke="#111" stroke-width="1.0"/>
<path d="M316.25 423.80H328.25" stroke="#111" stroke-width="1.5"/><path d="M316.25 419.60V428.00M328.25 419.60V428.00" stroke="#111" stroke-width="1.0"/><path d="M322.25 417.90V429.70" stroke="#111" stroke-width="1.5"/><path d="M318.05 417.90H326.45M318.05 429.70H326.45" stroke="#111" stroke-width="1.0"/>

<path d="M300.90 525.90V533.90" stroke="#111" stroke-width="1.5"/><path d="M296.70 525.90H305.10M296.70 533.90H305.10" stroke="#111" stroke-width="1.0"/>
<path d="M306.70 584.40H309.70" stroke="#111" stroke-width="1.5"/><path d="M306.70 580.20V588.60M309.70 580.20V588.60" stroke="#111" stroke-width="1.0"/><path d="M308.20 582.90V585.90" stroke="#111" stroke-width="1.5"/><path d="M304.00 582.90H312.40M304.00 585.90H312.40" stroke="#111" stroke-width="1.0"/>
<path d="M308.30 589.00H311.30" stroke="#111" stroke-width="1.5"/><path d="M308.30 584.80V593.20M311.30 584.80V593.20" stroke="#111" stroke-width="1.0"/><path d="M309.80 587.50V590.50" stroke="#111" stroke-width="1.5"/><path d="M305.60 587.50H314.00M305.60 590.50H314.00" stroke="#111" stroke-width="1.0"/>
<path d="M306.00 591.30H309.00" stroke="#111" stroke-width="1.5"/><path d="M306.00 587.10V595.50M309.00 587.10V595.50" stroke="#111" stroke-width="1.0"/><path d="M307.50 589.80V592.80" stroke="#111" stroke-width="1.5"/><path d="M303.30 589.80H311.70M303.30 592.80H311.70" stroke="#111" stroke-width="1.0"/>
<path d="M293.30 621.50H330.30" stroke="#111" stroke-width="1.5"/><path d="M293.30 617.30V625.70M330.30 617.30V625.70" stroke="#111" stroke-width="1.0"/><path d="M311.80 612.40V630.60" stroke="#111" stroke-width="1.5"/><path d="M307.60 612.40H316.00M307.60 630.60H316.00" stroke="#111" stroke-width="1.0"/>
<path d="M495.80 583.10V601.10" stroke="#111" stroke-width="1.5"/><path d="M491.60 583.10H500.00M491.60 601.10H500.00" stroke="#111" stroke-width="1.0"/>
<path d="M482.20 586.70H564.20" stroke="#111" stroke-width="1.5"/><path d="M482.20 582.50V590.90M564.20 582.50V590.90" stroke="#111" stroke-width="1.0"/><path d="M523.20 567.10V606.30" stroke="#111" stroke-width="1.5"/><path d="M519.00 567.10H527.40M519.00 606.30H527.40" stroke="#111" stroke-width="1.0"/>

<path d="M520.30 462.70H534.70" stroke="#111" stroke-width="1.5"/><path d="M520.30 458.50V466.90M534.70 458.50V466.90" stroke="#111" stroke-width="1.0"/><path d="M527.50 453.50V471.90" stroke="#111" stroke-width="1.5"/><path d="M523.30 453.50H531.70M523.30 471.90H531.70" stroke="#111" stroke-width="1.0"/>
<path d="M488.3 337.7L460.7 346.4" stroke="#fd2706" stroke-width="1.7" fill="none"/>
<path d="M491.4 354.3L479.4 358.0" stroke="#fd2706" stroke-width="1.7" fill="none"/>
<path d="M322.25 423.8L328.7 418.5" stroke="#fd2706" stroke-width="1.7" fill="none"/>
<path d="M311.8 621.5L328.1 631.8" stroke="#fd2706" stroke-width="1.7" fill="none"/>
<path d="M495.8 592.1L494.3 608.4" stroke="#fd2706" stroke-width="1.7" fill="none"/>
<path d="M523.2 586.7L515.0 589.4" stroke="#fd2706" stroke-width="1.7" fill="none"/>
<ellipse cx="488.30" cy="337.70" rx="3.85" ry="3.75" fill="#fd2706"/>
<ellipse cx="491.40" cy="354.30" rx="3.85" ry="3.75" fill="#fd2706"/>
<ellipse cx="322.25" cy="423.80" rx="3.85" ry="3.75" fill="#fd2706"/>
<ellipse cx="306.00" cy="511.35" rx="3.85" ry="3.75" fill="#fd2706"/>
<ellipse cx="300.90" cy="529.90" rx="3.85" ry="3.75" fill="#fd2706"/>
<ellipse cx="308.20" cy="584.40" rx="3.85" ry="3.75" fill="#fd2706"/>
<ellipse cx="309.80" cy="589.00" rx="3.85" ry="3.75" fill="#fd2706"/>
<ellipse cx="307.50" cy="591.30" rx="3.85" ry="3.75" fill="#fd2706"/>
<ellipse cx="311.80" cy="621.50" rx="3.85" ry="3.75" fill="#fd2706"/>
<ellipse cx="495.80" cy="592.10" rx="3.85" ry="3.75" fill="#fd2706"/>
<ellipse cx="523.20" cy="586.70" rx="3.85" ry="3.75" fill="#fd2706"/>
<ellipse cx="527.70" cy="444.70" rx="3.85" ry="3.75" fill="#fd2706"/>
<ellipse cx="527.50" cy="462.70" rx="3.85" ry="3.75" fill="#fd2706"/>
<rect x="105.95" y="78.0" width="655.80" height="629.30" fill="none" stroke="#000" stroke-width="1.35"/>
<path d="M188.43 707.3v-6.6M188.43 78.0v6.6M105.95 157.06h6.8M761.75 157.06h-6.8M270.40 707.3v-6.6M270.40 78.0v6.6M105.95 235.72h6.8M761.75 235.72h-6.8M352.38 707.3v-6.6M352.38 78.0v6.6M105.95 314.39h6.8M761.75 314.39h-6.8M434.35 707.3v-6.6M434.35 78.0v6.6M105.95 393.05h6.8M761.75 393.05h-6.8M516.33 707.3v-6.6M516.33 78.0v6.6M105.95 471.71h6.8M761.75 471.71h-6.8M598.30 707.3v-6.6M598.30 78.0v6.6M105.95 550.38h6.8M761.75 550.38h-6.8M680.27 707.3v-6.6M680.27 78.0v6.6M105.95 629.04h6.8M761.75 629.04h-6.8" stroke="#222" stroke-width="0.95" fill="none"/>
<text transform="translate(105.45 728.00) rotate(0.03) scale(1.007 1)" font-size="20.2" text-anchor="middle" font-family="DejaVu Sans, Liberation Sans, sans-serif" fill="#000">0.20</text>
<text transform="translate(100.80 84.90) rotate(0.03) scale(1.007 1)" font-size="20.2" text-anchor="end" font-family="DejaVu Sans, Liberation Sans, sans-serif" fill="#000">0.20</text>
<text transform="translate(187.43 728.00) rotate(0.03) scale(1.007 1)" font-size="20.2" text-anchor="middle" font-family="DejaVu Sans, Liberation Sans, sans-serif" fill="#000">0.15</text>
<text transform="translate(100.80 163.56) rotate(0.03) scale(1.007 1)" font-size="20.2" text-anchor="end" font-family="DejaVu Sans, Liberation Sans, sans-serif" fill="#000">0.15</text>
<text transform="translate(269.40 728.00) rotate(0.03) scale(1.007 1)" font-size="20.2" text-anchor="middle" font-family="DejaVu Sans, Liberation Sans, sans-serif" fill="#000">0.10</text>
<text transform="translate(100.80 242.22) rotate(0.03) scale(1.007 1)" font-size="20.2" text-anchor="end" font-family="DejaVu Sans, Liberation Sans, sans-serif" fill="#000">0.10</text>
<text transform="translate(351.38 728.00) rotate(0.03) scale(1.007 1)" font-size="20.2" text-anchor="middle" font-family="DejaVu Sans, Liberation Sans, sans-serif" fill="#000">0.05</text>
<text transform="translate(100.80 320.89) rotate(0.03) scale(1.007 1)" font-size="20.2" text-anchor="end" font-family="DejaVu Sans, Liberation Sans, sans-serif" fill="#000">0.05</text>
<text transform="translate(433.35 728.00) rotate(0.03) scale(1.007 1)" font-size="20.2" text-anchor="middle" font-family="DejaVu Sans, Liberation Sans, sans-serif" fill="#000">0.00</text>
<text transform="translate(100.80 399.55) rotate(0.03) scale(1.007 1)" font-size="20.2" text-anchor="end" font-family="DejaVu Sans, Liberation Sans, sans-serif" fill="#000">0.00</text>
<text transform="translate(514.43 728.00) rotate(0.03) scale(1.007 1)" font-size="20.2" text-anchor="middle" font-family="DejaVu Sans, Liberation Sans, sans-serif" fill="#000">−0.05</text>
<text transform="translate(100.80 478.21) rotate(0.03) scale(1.007 1)" font-size="20.2" text-anchor="end" font-family="DejaVu Sans, Liberation Sans, sans-serif" fill="#000">−0.05</text>
<text transform="translate(596.40 728.00) rotate(0.03) scale(1.007 1)" font-size="20.2" text-anchor="middle" font-family="DejaVu Sans, Liberation Sans, sans-serif" fill="#000">−0.10</text>
<text transform="translate(100.80 556.88) rotate(0.03) scale(1.007 1)" font-size="20.2" text-anchor="end" font-family="DejaVu Sans, Liberation Sans, sans-serif" fill="#000">−0.10</text>
<text transform="translate(678.38 728.00) rotate(0.03) scale(1.007 1)" font-size="20.2" text-anchor="middle" font-family="DejaVu Sans, Liberation Sans, sans-serif" fill="#000">−0.15</text>
<text transform="translate(100.80 635.54) rotate(0.03) scale(1.007 1)" font-size="20.2" text-anchor="end" font-family="DejaVu Sans, Liberation Sans, sans-serif" fill="#000">−0.15</text>
<text transform="translate(760.35 728.00) rotate(0.03) scale(1.007 1)" font-size="20.2" text-anchor="middle" font-family="DejaVu Sans, Liberation Sans, sans-serif" fill="#000">−0.20</text>
<text transform="translate(100.80 714.20) rotate(0.03) scale(1.007 1)" font-size="20.2" text-anchor="end" font-family="DejaVu Sans, Liberation Sans, sans-serif" fill="#000">−0.20</text>
<text transform="translate(434.50 69.60) rotate(0.03) scale(0.97 1)" font-size="24.4" text-anchor="middle" font-family="DejaVu Sans, Liberation Sans, sans-serif" fill="#000">Orbits of S0-2 &amp; S0-102</text>
<text transform="translate(356.20 756.00) scale(1.1 0.88)" font-size="24.6" font-family="DejaVu Serif, Liberation Serif, serif" fill="#000">Δ</text>
<text transform="translate(375.90 756.00) rotate(0.03) scale(0.968 1)" font-size="24.6" text-anchor="start" font-family="DejaVu Sans, Liberation Sans, sans-serif" fill="#000">RA (arcsec)</text>
<text transform="translate(26.10 477.70) rotate(-90) scale(1.1 0.88)" font-size="24.6" font-family="DejaVu Serif, Liberation Serif, serif" fill="#000">Δ</text>
<text transform="translate(26.10 458.80) rotate(-89.97) scale(0.956 1)" font-size="24.6" text-anchor="start" font-family="DejaVu Sans, Liberation Sans, sans-serif" fill="#000">DEC (arcsec)</text>
<rect x="116.55" y="88.55" width="156.55" height="128.55" fill="#fff" stroke="#000" stroke-width="1.35"/>
<path d="M130.6 105.05H161.5" stroke="#000" stroke-width="1.5"/>
<path d="M130.6 135.5H161.5" stroke="#fd2706" stroke-width="1.9"/>
<path d="M130.6 166.0H161.5" stroke="#000" stroke-width="1.5"/>
<path d="M130.6 196.45H161.5" stroke="#000" stroke-width="1.5" stroke-dasharray="8.9 9.2"/>
<text transform="translate(181.60 112.10) rotate(0.03) scale(1.068 1)" font-size="19.9" text-anchor="start" font-family="DejaVu Sans, Liberation Sans, sans-serif" fill="#000">S0-2</text>
<text transform="translate(181.60 142.55) rotate(0.03) scale(1.068 1)" font-size="19.9" text-anchor="start" font-family="DejaVu Sans, Liberation Sans, sans-serif" fill="#000">S0-102</text>
<text transform="translate(181.60 173.00) rotate(0.03) scale(1.068 1)" font-size="19.9" text-anchor="start" font-family="DejaVu Sans, Liberation Sans, sans-serif" fill="#000">AO</text>
<text transform="translate(181.60 203.70) rotate(0.03) scale(1.068 1)" font-size="19.9" text-anchor="start" font-family="DejaVu Sans, Liberation Sans, sans-serif" fill="#000">Speckle</text>
</svg>
</body></html>
